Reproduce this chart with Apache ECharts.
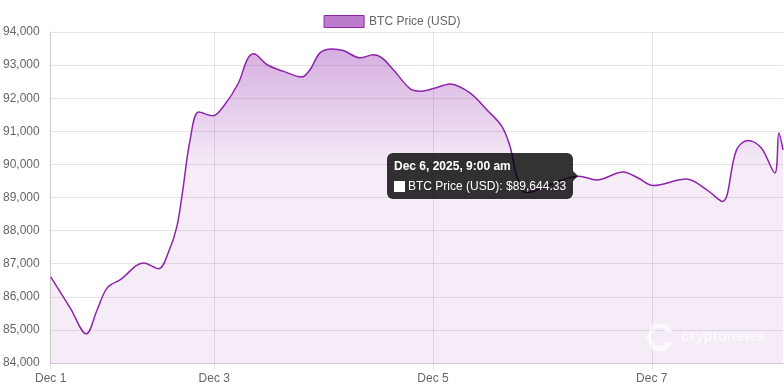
<!DOCTYPE html>
<html>
<head>
<meta charset="utf-8">
<script src="https://cdn.jsdelivr.net/npm/echarts@6/dist/echarts.min.js"></script>
<style>
html,body{margin:0;padding:0;background:#fff;}
#chart{width:784px;height:392px;}
</style>
</head>
<body>
<div id="chart"></div>
<script>
// Hours since Dec 1, 2025 00:00
var hours = [12.1,16.4,19.9,22.3,24.5,27.4,32.5,35.8,38.0,39.8,41.1,42.7,44.6,47.7,50.0,53.3,55.2,56.6,59.6,63.2,67.2,69.0,71.2,73.8,76.3,80.0,82.9,84.8,87.3,91.0,93.2,96.1,99.7,104.1,107.8,111.1,112.9,114.4,116.2,118.0,121.5,125.0,128.0,131.9,137.7,141.0,144.3,151.6,156.0,159.5,162.6,165.1,168.0,171.0,171.9,172.8];
var prices = [86600,85660,84880,85610,86270,86520,87020,86850,87370,88130,89240,90750,91580,91470,91750,92460,93160,93340,93010,92810,92640,92860,93370,93490,93440,93220,93310,93220,92860,92280,92210,92290,92430,92160,91650,91150,90540,89640,89150,89180,89380,89560,89644.33,89530,89770,89590,89360,89560,89240,88880,90440,90720,90500,89740,90950,90440];
var xTickValues = [12.1,48,96,144];
var xTickLabels = ['Dec 1','Dec 3','Dec 5','Dec 7'];
var seriesName = 'BTC Price (USD)';
var tipIndex = 42;
var tipTitle = 'Dec 6, 2025, 9:00 am';

var FONT = '"Liberation Sans", Arial, Helvetica, sans-serif';
var PURPLE = '#8e24aa';
var data = hours.map(function(h,i){return [h, prices[i]];});

var chart = echarts.init(document.getElementById('chart'));
chart.setOption({
  animation:false,
  textStyle:{fontFamily:FONT},
  legend:{
    top:10, left:'center',
    itemWidth:40, itemHeight:12, itemGap:10,
    textStyle:{color:'#666',fontSize:12,fontFamily:FONT},
    data:[{name:seriesName, icon:'rect', itemStyle:{color:'rgba(142,36,170,0.6)',borderColor:PURPLE,borderWidth:1,opacity:1}}]
  },
  grid:{left:50,right:1,top:32,bottom:29,containLabel:false},
  xAxis:{
    type:'value', min:12.1, max:172.8,
    axisLine:{show:true,lineStyle:{color:'#cccccc',width:1}},
    axisTick:{show:true,length:7,customValues:xTickValues,lineStyle:{color:'rgba(0,0,0,0.1)'}},
    axisLabel:{customValues:xTickValues,margin:10,color:'#666',fontSize:12,fontFamily:FONT,
      formatter:function(v){var i=xTickValues.indexOf(v);return i>=0?xTickLabels[i]:'';}},
    splitLine:{show:true,lineStyle:{color:'rgba(0,0,0,0.1)',width:1}}
  },
  yAxis:{
    type:'value', min:84000, max:94000, interval:1000,
    axisLine:{show:true,lineStyle:{color:'#cccccc',width:1}},
    axisTick:{show:false},
    axisLabel:{margin:11,color:'#666',fontSize:12,fontFamily:FONT,
      formatter:function(v){return v.toLocaleString('en-US');}},
    splitLine:{show:true,lineStyle:{color:'rgba(0,0,0,0.1)',width:1}}
  },
  tooltip:{
    trigger:'item', triggerOn:'none', alwaysShowContent:true, transitionDuration:0,
    backgroundColor:'rgba(0,0,0,0.8)', borderWidth:0, padding:[6,7,6,7],
    extraCssText:'border-radius:6px;box-shadow:none;',
    textStyle:{color:'#fff',fontSize:12,fontFamily:FONT},
    position:function(pt,params,dom,rect,size){
      return [pt[0]-size.contentSize[0]-6, pt[1]-size.contentSize[1]/2];
    },
    formatter:function(p){
      if (Array.isArray(p)) p = p[0];
      var val = '$' + p.value[1].toLocaleString('en-US',{minimumFractionDigits:2,maximumFractionDigits:2});
      return '<div style="position:relative;font-family:'+FONT.replace(/"/g,"'")+';">'+
        '<div style="font-weight:bold;line-height:14px;margin-bottom:6px;">'+tipTitle+'</div>'+
        '<div style="line-height:14px;"><span style="display:inline-block;width:11px;height:11px;background:#fff;vertical-align:-2px;margin-right:3px;"></span>'+p.seriesName+': '+val+'</div>'+
        '<div style="position:absolute;right:-12px;top:50%;margin-top:-5px;width:0;height:0;border-top:5px solid transparent;border-bottom:5px solid transparent;border-left:5px solid rgba(0,0,0,0.8);"></div>'+
        '</div>';
    }
  },
  graphic:[
    {type:'polygon', left:646, top:324, z:100,
     shape:{points:[[7,0],[20,0],[27,8],[20,8],[16,4],[10,4],[6,13],[10,22],[16,22],[20,18],[27,18],[20,27],[7,27],[0,13.5]]},
     style:{fill:'rgba(255,255,255,0.65)'}},
    {type:'text', left:681, top:329, z:100,
     style:{text:'cryptonews', fill:'rgba(255,255,255,0.65)', font:'bold 15px '+FONT}}
  ],
  series:[{
    name:seriesName, type:'line', data:data, smooth:0.35,
    showSymbol:true, symbol:'circle', symbolSize:2,
    lineStyle:{color:PURPLE,width:1.5},
    itemStyle:{color:PURPLE,opacity:0},
    emphasis:{disabled:true},
    areaStyle:{
      origin:'start',
      color:{type:'linear',x:0,y:32,x2:0,y2:168,global:true,
        colorStops:[{offset:0,color:'rgba(142,36,170,0.58)'},{offset:1,color:'rgba(142,36,170,0.125)'}]}
    }
  }]
});
chart.dispatchAction({type:'showTip', seriesIndex:0, dataIndex:tipIndex});
setTimeout(function(){chart.dispatchAction({type:'showTip', seriesIndex:0, dataIndex:tipIndex});},50);
</script>
</body>
</html>
